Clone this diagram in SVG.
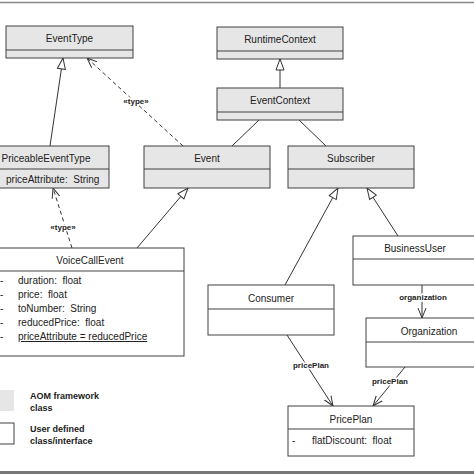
<svg xmlns="http://www.w3.org/2000/svg" width="474" height="474" viewBox="0 0 474 474">
<defs>
<style>
.box{fill:#fff;stroke:#404040;stroke-width:1}
.aom{fill:#e6e6e6;stroke:#404040;stroke-width:1}
.div{stroke:#404040;stroke-width:1}
.t{font-family:"Liberation Sans",Arial,sans-serif;font-size:10px;fill:#222}
.c{text-anchor:middle}
.lbl{font-family:"Liberation Sans",Arial,sans-serif;font-size:8px;font-weight:bold;fill:#222;text-anchor:middle;stroke:#fff;stroke-width:3px;paint-order:stroke}
.leg{font-family:"Liberation Sans",Arial,sans-serif;font-size:9px;font-weight:bold;fill:#222}
.ln{stroke:#333;stroke-width:1;fill:none}
.dash{stroke-dasharray:4,3}
</style>
<marker id="gen" viewBox="0 0 12 10" refX="12" refY="5" markerWidth="12" markerHeight="10" orient="auto" markerUnits="userSpaceOnUse"><path d="M1,1 L12,5 L1,9 z" fill="#fff" stroke="#333" stroke-width="1"/></marker>
<marker id="open" viewBox="0 0 10 10" refX="10" refY="5" markerWidth="10" markerHeight="10" orient="auto" markerUnits="userSpaceOnUse"><path d="M0,1 L10,5 L0,9" fill="none" stroke="#333" stroke-width="1"/></marker>
</defs>
<rect x="0" y="0" width="474" height="474" fill="#fff"/>
<line x1="0" y1="2.5" x2="474" y2="2.5" stroke="#888" stroke-width="1.5"/>
<rect x="0" y="471" width="474" height="3" fill="#777"/>

<g id="connectors">
<line class="ln" x1="280" y1="88" x2="280" y2="59" stroke-width="2" marker-end="url(#gen)"/>
<line class="ln" x1="259" y1="120" x2="232" y2="146"/>
<line class="ln" x1="299" y1="120" x2="326" y2="146"/>
<line class="ln" x1="50" y1="146" x2="63" y2="58" marker-end="url(#gen)"/>
<line class="ln dash" x1="183" y1="146" x2="87" y2="58" marker-end="url(#open)"/>
<text class="lbl" x="136" y="104">«type»</text>
<line class="ln dash" x1="72" y1="248" x2="53" y2="188" marker-end="url(#open)"/>
<text class="lbl" x="63" y="230">«type»</text>
<line class="ln" x1="137" y1="248" x2="188" y2="188" marker-end="url(#gen)"/>
<line class="ln" x1="285" y1="285" x2="338" y2="188" marker-end="url(#gen)"/>
<line class="ln" x1="398" y1="236" x2="367" y2="188" marker-end="url(#gen)"/>
<line class="ln" x1="422" y1="285" x2="422" y2="318" marker-end="url(#open)"/>
<text class="lbl" x="423" y="300">organization</text>
<line class="ln" x1="287" y1="335" x2="333" y2="406" marker-end="url(#open)"/>
<text class="lbl" x="311" y="368">pricePlan</text>
<line class="ln" x1="405" y1="367" x2="373" y2="406" marker-end="url(#open)"/>
<text class="lbl" x="390" y="384">pricePlan</text>
</g>

<g id="EventType">
<rect class="aom" x="6" y="26" width="127" height="32"/>
<line class="div" x1="6" y1="50" x2="133" y2="50"/>
<text class="t c" x="69.5" y="42">EventType</text>
</g>
<g id="RuntimeContext">
<rect class="aom" x="217" y="27" width="126" height="32"/>
<line class="div" x1="217" y1="51" x2="343" y2="51"/>
<text class="t c" x="280" y="43">RuntimeContext</text>
</g>
<g id="EventContext">
<rect class="aom" x="217" y="88" width="126" height="32"/>
<line class="div" x1="217" y1="112" x2="343" y2="112"/>
<text class="t c" x="280" y="104">EventContext</text>
</g>
<g id="PriceableEventType">
<rect class="aom" x="-2" y="146" width="111" height="42"/>
<line class="div" x1="-2" y1="169" x2="109" y2="169"/>
<text class="t c" x="46" y="162">PriceableEventType</text>
<text class="t" x="6" y="183">priceAttribute:&#160; String</text>
</g>
<g id="Event">
<rect class="aom" x="144" y="146" width="126" height="42"/>
<line class="div" x1="144" y1="169" x2="270" y2="169"/>
<text class="t c" x="207" y="162">Event</text>
</g>
<g id="Subscriber">
<rect class="aom" x="288" y="146" width="126" height="42"/>
<line class="div" x1="288" y1="169" x2="414" y2="169"/>
<text class="t c" x="351" y="162">Subscriber</text>
</g>
<g id="VoiceCallEvent">
<rect class="box" x="-4" y="248" width="188" height="108"/>
<line class="div" x1="-4" y1="271" x2="184" y2="271"/>
<text class="t c" x="90" y="264">VoiceCallEvent</text>
<text class="t" x="0" y="284" fill="#888">-</text>
<text class="t" x="0" y="298" fill="#888">-</text>
<text class="t" x="0" y="312" fill="#888">-</text>
<text class="t" x="0" y="326" fill="#888">-</text>
<text class="t" x="0" y="340" fill="#888">-</text>
<text class="t" x="18" y="284">duration:&#160; float</text>
<text class="t" x="18" y="298">price:&#160; float</text>
<text class="t" x="18" y="312">toNumber:&#160; String</text>
<text class="t" x="18" y="326">reducedPrice:&#160; float</text>
<text class="t" x="18" y="340" text-decoration="underline">priceAttribute = reducedPrice</text>
</g>
<g id="BusinessUser">
<rect class="box" x="353" y="236" width="124" height="49"/>
<line class="div" x1="353" y1="259" x2="477" y2="259"/>
<text class="t c" x="415" y="252">BusinessUser</text>
</g>
<g id="Consumer">
<rect class="box" x="208" y="285" width="126" height="50"/>
<line class="div" x1="208" y1="309" x2="334" y2="309"/>
<text class="t c" x="271" y="302">Consumer</text>
</g>
<g id="Organization">
<rect class="box" x="366" y="318" width="126" height="49"/>
<line class="div" x1="366" y1="342" x2="492" y2="342"/>
<text class="t c" x="429" y="335" font-size="10.5">Organization</text>
</g>
<g id="PricePlan">
<rect class="box" x="288" y="406" width="126" height="50"/>
<line class="div" x1="288" y1="429" x2="414" y2="429"/>
<text class="t c" x="351" y="423">PricePlan</text>
<text class="t" x="292" y="444">-</text>
<text class="t" x="312" y="444">flatDiscount:&#160; float</text>
</g>
<g id="legend">
<rect x="-2" y="390" width="16" height="21" fill="#e6e6e6"/>
<text class="leg" x="30" y="399">AOM framework</text>
<text class="leg" x="30" y="411">class</text>
<rect class="box" x="-2" y="423" width="16" height="21" stroke-width="1.2"/>
<text class="leg" x="30" y="432">User defined</text>
<text class="leg" x="30" y="444">class/interface</text>
</g>
</svg>
